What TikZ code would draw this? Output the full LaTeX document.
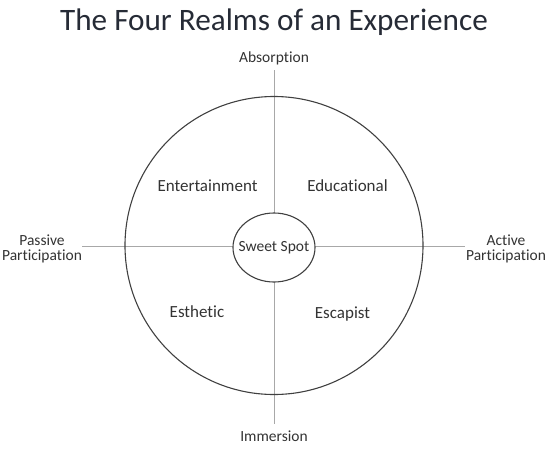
\documentclass[tikz,border=0pt]{standalone}
\usepackage{fontspec}
\setmainfont{Carlito}[Ligatures={NoCommon}]
\usetikzlibrary{shapes.geometric}
\definecolor{titlecol}{HTML}{262B36}
\definecolor{textcol}{HTML}{333333}
\definecolor{axiscol}{HTML}{A8A8A8}
\definecolor{circcol}{HTML}{404040}
\begin{document}
\begin{tikzpicture}[x=1pt,y=-1pt,
  axis/.style={draw=axiscol,line width=0.9pt},
  ring/.style={draw=circcol,line width=1.1pt},
  axislabel/.style={text=textcol,font=\fontsize{15.5}{15.5}\selectfont,align=center,inner sep=0pt},
  realm/.style={text=textcol,font=\fontsize{17}{19}\selectfont,inner sep=0pt}]
\useasboundingbox (0,0) rectangle (550,456);
\node[text=titlecol,font=\fontsize{31.2}{36}\selectfont,inner sep=0pt] (title) at (274,22) {The Four Realms of an Experience};
\node[axislabel] (abs) at (274,58) {Absorption};
\node[axislabel] (imm) at (274,436) {Immersion};
\node[axislabel] (pas) at (42,249) {Passive\\Participation};
\node[axislabel] (act) at (506,249) {Active\\Participation};
\coordinate (top) at (274,70);
\coordinate (bot) at (274,424);
\coordinate (lft) at (82,246);
\coordinate (rgt) at (465,246);
\draw[axis] (top) -- (bot);
\draw[axis] (lft) -- (rgt);
\node[ring,circle,minimum size=298pt,inner sep=0pt] (big) at (274,245.5) {};
\node[ring,ellipse,fill=white,minimum width=82pt,minimum height=69pt,inner sep=0pt] (sweet) at (274,247.5) {};
\node[text=textcol,font=\fontsize{15.5}{17}\selectfont,inner sep=0pt] (sweetlbl) at (sweet.center) {Sweet Spot};
\node[realm] (ent) at (207.5,186) {Entertainment};
\node[realm] (edu) at (347.5,186) {Educational};
\node[realm] (est) at (197,312) {Esthetic};
\node[realm] (esc) at (342.5,314) {Escapist};
\end{tikzpicture}
\end{document}
